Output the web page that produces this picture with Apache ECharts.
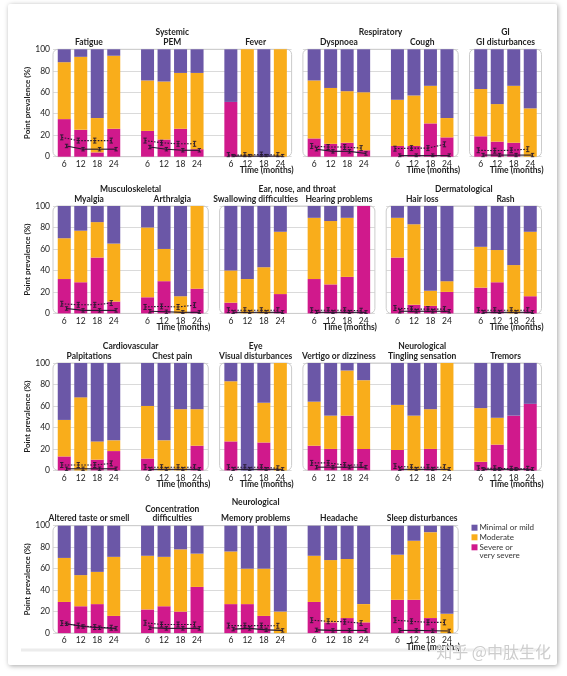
<!DOCTYPE html>
<html><head><meta charset="utf-8">
<script src="https://cdn.jsdelivr.net/npm/echarts@6/dist/echarts.min.js"></script>
<style>html,body{margin:0;padding:0;background:#fff}#c{width:567px;height:676px}</style>
</head><body><div id="c"></div>
<script>
// ---------------- DATA ----------------
const timepoints = ['6', '12', '18', '24'];
const symptoms = [
  'Fatigue', 'PEM', 'Fever', 'Dyspnoea', 'Cough', 'GI disturbances',
  'Myalgia', 'Arthralgia', 'Swallowing difficulties', 'Hearing problems', 'Hair loss', 'Rash',
  'Palpitations', 'Chest pain', 'Visual disturbances', 'Vertigo or dizziness', 'Tingling sensation', 'Tremors',
  'Altered taste or smell', 'Concentration\ndifficulties', 'Memory problems', 'Headache', 'Sleep disturbances'
];
// Severe or very severe (%)
const severe = [
  [35, 25, 4, 26], [24, 16, 26, 7], [51, 0, 0, 0], [17, 12, 13, 6], [10, 10, 31, 18], [19, 14, 13, 0],
  [32, 29, 52, 11], [15, 30, 0, 23], [10, 0, 0, 18], [32, 27, 34, 100], [52, 8, 7, 20], [24, 29, 0, 16],
  [13, 0, 10, 18], [11, 0, 0, 23], [27, 0, 26, 0], [23, 20, 51, 20], [19, 0, 20, 0], [8, 24, 51, 62],
  [29, 25, 27, 16], [22, 25, 20, 43], [27, 27, 16, 0], [29, 10, 14, 10], [31, 31, 14, 0]
];
// Moderate (%)
const moderate = [
  [53, 68, 32, 68], [47, 54, 52, 71], [0, 100, 0, 100], [54, 52, 48, 54], [43, 47, 35, 18], [44, 35, 53, 45],
  [38, 48, 33, 54], [65, 30, 16, 77], [30, 32, 43, 58], [57, 59, 55, 0], [37, 75, 14, 10], [38, 30, 45, 60],
  [34, 68, 17, 10], [49, 28, 57, 34], [56, 0, 37, 100], [41, 31, 42, 64], [42, 51, 37, 100], [50, 25, 0, 0],
  [41, 29, 30, 55], [50, 46, 58, 31], [49, 33, 44, 20], [43, 58, 55, 17], [42, 55, 80, 18]
];
// Minimal or mild (%)
const mild = [
  [12, 7, 64, 6], [29, 30, 22, 22], [49, 0, 100, 0], [29, 36, 39, 40], [47, 43, 34, 64], [37, 51, 34, 55],
  [30, 23, 15, 35], [20, 40, 84, 0], [60, 68, 57, 24], [11, 14, 11, 0], [11, 17, 79, 70], [38, 41, 55, 24],
  [53, 32, 73, 72], [40, 72, 43, 43], [17, 100, 37, 0], [36, 49, 7, 16], [39, 49, 43, 0], [42, 51, 49, 38],
  [30, 46, 43, 29], [28, 29, 22, 26], [24, 40, 40, 80], [28, 32, 31, 73], [27, 14, 6, 82]
];
// overlay trend lines (dotted = upper, solid = lower)
const trendDotted = [
  [18, 15, 15, 15], [15, 13, 12, 12], [1.5, 1.5, 2, 1.5], [10, 9, 9, 8], [7.5, 8, 8, 11.5], [6, 5.6, 6, 7],
  [9, 8, 8, 9.6], [6, 6.5, 6, 7.7], [3, 3, 3, 3], [3, 3, 3, 2.5], [5, 4, 4, 4], [3, 3, 3, 3],
  [5, 5, 5, 6.5], [3, 3, 3, 3], [3, 3, 3, 2], [7, 7, 5, 5], [4, 3, 3, 3], [2, 2, 1.5, 1.5],
  [9.3, 7, 5.6, 5], [9.6, 8, 8, 8], [7, 7, 7, 6.8], [12, 11, 10.6, 9.3], [12, 11, 10, 10]
];
const trendSolid = [
  [10, 7, 7, 7], [9, 7, 6, 6], [0.5, 0.5, 0.5, 0.5], [7, 5, 5, 3], [1, 1, 1, 1], [1.5, 1.5, 1.5, 1.5],
  [4.6, 2.8, 2.8, 2.8], [2, 1.5, 1, 1], [1, 1, 1, 1], [1, 1, 1, 1], [2, 2, 2, 2], [1, 1, 1, 1],
  [1.5, 1.5, 1.5, 1.5], [1, 1, 1, 1], [1, 1, 1, 1], [3, 3, 3, 3], [1, 1, 1, 1], [1, 1, 1, 1],
  [8.7, 6.2, 5, 4.4], [5, 4.4, 4.4, 4.4], [3.7, 4.4, 3, 2.5], [3, 2.5, 2.5, 2.5], [2.5, 2.5, 2.2, 2]
];
const ciDotted = 2.3;
const ciSolid = 1.6;
const groupNames = ['Systemic', 'Respiratory', 'GI', 'Musculoskeletal', 'Ear, nose, and throat', 'Dermatological',
  'Cardiovascular', 'Eye', 'Neurological', 'Neurological'];
const legendNames = ['Minimal or mild', 'Moderate', 'Severe or\nvery severe'];

// ---------------- LAYOUT ----------------
const groupSpans = [[0, 0, 2], [0, 3, 4], [0, 5, 5], [1, 0, 1], [1, 2, 3], [1, 4, 5], [2, 0, 1], [2, 2, 2], [2, 3, 5], [3, 0, 4]];
const LEFT0 = 56, STEP = 83.3, PW = 66, PH = 107.4;
const ROW_TOP = [49.3, 206, 363, 525.7];
const C_MILD = '#6b57a7', C_MOD = '#f9ad1b', C_SEV = '#d0198c';
const FONT = 'Lato';
const TXT = '#1e1e1e';
const LINE_C = '#24182e';

const grids = [], xAxes = [], yAxes = [], series = [], graphics = [];

// card
graphics.push({ type: 'rect', z: -100, shape: { x: 8, y: 4, width: 549, height: 661, r: 2 },
  style: { fill: '#fff', shadowBlur: 5, shadowColor: 'rgba(0,0,0,0.35)', shadowOffsetX: 1, shadowOffsetY: 1 } });
graphics.push({ type: 'rect', z: -99, shape: { x: 21, y: 648.5, width: 525, height: 3 }, style: { fill: '#ececec' } });

// group boxes (gridlines)
groupSpans.forEach((g, gi) => {
  const [row, c0, c1] = g;
  const left = LEFT0 + c0 * STEP - 3;
  const right = LEFT0 + c1 * STEP + PW + 3;
  const idx = grids.length;
  grids.push({ left: left, top: ROW_TOP[row], width: right - left, height: PH });
  xAxes.push({ gridIndex: idx, type: 'category', data: [''], show: false });
  yAxes.push({ gridIndex: idx, type: 'value', min: 0, max: 100, interval: 20,
    axisLabel: { show: false }, axisLine: { show: false }, axisTick: { show: false },
    splitLine: { show: true, lineStyle: { color: '#d6d6d6', width: 0.9 } } });
  graphics.push({ type: 'rect', z: 1, shape: { x: left, y: ROW_TOP[row], width: right - left, height: PH, r: 5 },
    style: { fill: 'none', stroke: '#cccccc', lineWidth: 1 } });
  graphics.push({ type: 'text', z: 10, style: { text: groupNames[gi], x: (left + right) / 2,
    y: ROW_TOP[row] - (row === 3 ? 23 : 17), align: 'center', verticalAlign: 'middle',
    font: 'bold 8.5px ' + FONT, fill: TXT } });
  graphics.push({ type: 'text', z: 10, style: { text: 'Time (months)', x: right + 2, y: ROW_TOP[row] + PH + 14,
    align: 'right', verticalAlign: 'middle', font: 'bold 8.5px ' + FONT, fill: TXT } });
});

function trendSeries(gi, values, dx, dashed) {
  const e = dashed ? ciDotted : ciSolid;
  return {
    type: 'custom', xAxisIndex: gi, yAxisIndex: gi, z: 5, silent: true,
    data: values.map((v, k) => [k, v]),
    renderItem(params, api) {
      const k = api.value(0), v = api.value(1);
      const p = api.coord([k, v]);
      const t = api.coord([k, v + e]);
      const b = api.coord([k, Math.max(0, v - e)]);
      const x = p[0] + dx;
      const st = { stroke: LINE_C, lineWidth: 0.9 };
      const ch = [
        { type: 'line', shape: { x1: x, y1: t[1], x2: x, y2: b[1] }, style: st },
        { type: 'line', shape: { x1: x - 1.7, y1: t[1], x2: x + 1.7, y2: t[1] }, style: st },
        { type: 'line', shape: { x1: x - 1.7, y1: b[1], x2: x + 1.7, y2: b[1] }, style: st }
      ];
      if (k < values.length - 1) {
        const q = api.coord([k + 1, values[k + 1]]);
        ch.push({ type: 'line', shape: { x1: x, y1: p[1], x2: q[0] + dx, y2: q[1] },
          style: { stroke: LINE_C, lineWidth: 1.1, lineDash: dashed ? [1.6, 1.4] : null } });
      }
      return { type: 'group', children: ch };
    }
  };
}

symptoms.forEach((name, i) => {
  const row = Math.floor(i / 6), col = i % 6;
  const gi = grids.length;
  const left = LEFT0 + col * STEP;
  grids.push({ left: left, top: ROW_TOP[row], width: PW, height: PH });
  xAxes.push({ gridIndex: gi, type: 'category', data: timepoints,
    axisLine: { show: false }, axisTick: { show: false },
    axisLabel: { margin: 3, fontSize: 8.5, fontFamily: FONT, color: TXT } });
  yAxes.push({ gridIndex: gi, type: 'value', min: 0, max: 100, interval: 20,
    name: col === 0 ? 'Point prevalence (%)' : '', nameLocation: 'middle', nameGap: 22,
    nameTextStyle: { fontSize: 8, fontWeight: 'bold', fontFamily: FONT, color: TXT },
    axisLine: { show: false }, axisTick: { show: false }, splitLine: { show: false },
    axisLabel: { show: col === 0, margin: 6, fontSize: 8.5, fontFamily: FONT, color: TXT } });
  const common = { type: 'bar', xAxisIndex: gi, yAxisIndex: gi, stack: 's' + i, barWidth: 13, silent: true, z: 2 };
  series.push(Object.assign({ name: 'Severe or very severe', data: severe[i], itemStyle: { color: C_SEV } }, common));
  series.push(Object.assign({ name: 'Moderate', data: moderate[i], itemStyle: { color: C_MOD } }, common));
  series.push(Object.assign({ name: 'Minimal or mild', data: mild[i], itemStyle: { color: C_MILD } }, common));
  series.push(trendSeries(gi, trendDotted[i], -2.5, true));
  series.push(trendSeries(gi, trendSolid[i], 2.3, false));
  graphics.push({ type: 'text', z: 10, style: { text: name, x: left + PW / 2, y: ROW_TOP[row] - 2.5,
    align: 'center', verticalAlign: 'bottom', font: 'bold 8.5px ' + FONT, fill: TXT, lineHeight: 9 } });
});

// legend
const legendColors = [C_MILD, C_MOD, C_SEV];
const legendY = [527.7, 537.3, 547.3];
legendNames.forEach((n, k) => {
  graphics.push({ type: 'rect', z: 10, shape: { x: 471.5, y: legendY[k] - 3, width: 6, height: 6 }, style: { fill: legendColors[k] } });
  graphics.push({ type: 'text', z: 10, style: { text: n, x: 479.5, y: legendY[k] - 4.5, align: 'left', verticalAlign: 'top',
    font: '8px ' + FONT, fill: '#333', lineHeight: 8.5 } });
});

// watermark
graphics.push({ type: 'text', z: 20, style: { text: '知乎 @中肽生化', x: 551, y: 651.5, align: 'right', verticalAlign: 'middle',
  font: '16px "Noto Sans CJK SC"', fill: 'rgba(200,200,200,0.9)', stroke: 'rgba(255,255,255,0.8)', lineWidth: 1 } });

const chart = echarts.init(document.getElementById('c'), null, { renderer: 'canvas' });
chart.setOption({
  animation: false,
  backgroundColor: '#fff',
  grid: grids, xAxis: xAxes, yAxis: yAxes, series: series,
  graphic: { elements: graphics }
});
</script></body></html>
